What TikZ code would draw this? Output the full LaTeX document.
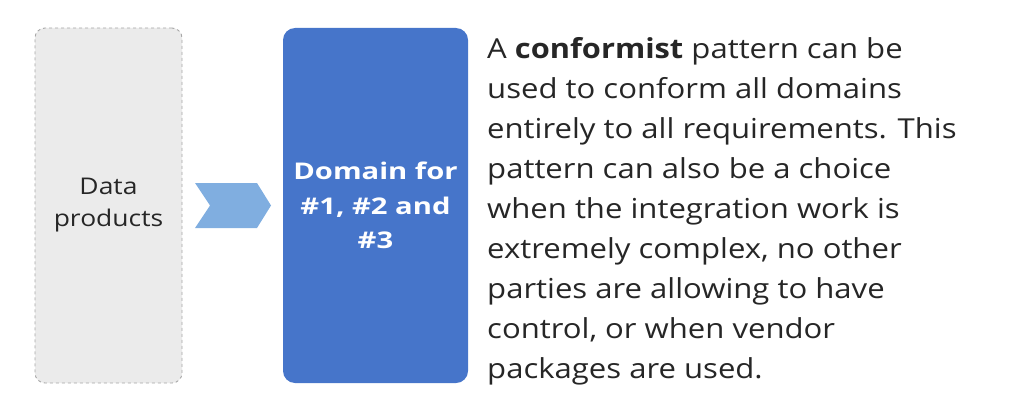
\documentclass[tikz,border=0pt]{standalone}
\usepackage{fontspec}
\setmainfont[FakeStretch=1.13,BoldFeatures={FakeStretch=1.12}]{Open Sans}
\newfontfamily\domfont[FakeStretch=1.15,BoldFeatures={FakeStretch=1.27}]{Open Sans}
\definecolor{graybox}{HTML}{EBEBEB}
\definecolor{grayline}{HTML}{A6A6A6}
\definecolor{bluebox}{HTML}{4675CA}
\definecolor{chev}{HTML}{80AEE0}
\definecolor{txt}{HTML}{262626}
\begin{document}
\begin{tikzpicture}[x=1pt,y=-1pt,
  dpbox/.style={draw=grayline,fill=graybox,dashed,line width=0.9pt,rounded corners=10pt,minimum width=147pt,minimum height=355pt,inner sep=0pt,align=center,text=txt,font=\domfont\fontsize{23}{32}\selectfont},
  dombox/.style={fill=bluebox,rounded corners=12pt,minimum width=185pt,minimum height=355pt,inner sep=0pt,align=center,text=white,font=\domfont\bfseries\fontsize{23}{34.5}\selectfont},
  desc/.style={anchor=north west,inner sep=0pt,align=left,text=txt,font=\fontsize{27.5}{40}\selectfont}]
\useasboundingbox (0,0) rectangle (1024,404);
\node[dpbox] (dp) at (108.5,205.5) {Data\\products};
\node[dombox] (dom) at (375.5,205.5) {Domain for\\\#1, \#2 and\\\#3};
\fill[chev] (195,183) -- (257,183) -- (271,205.5) -- (257,228) -- (195,228) -- (210,205.5) -- cycle;
\node[desc] (t) at (487,37) {A \textbf{conformist} pattern can be\\used to conform all domains\\entirely to all requirements. This\\pattern can also be a choice\\when the integration work is\\extremely complex, no other\\parties are allowing to have\\control, or when vendor\\packages are used.};
\end{tikzpicture}
\end{document}
